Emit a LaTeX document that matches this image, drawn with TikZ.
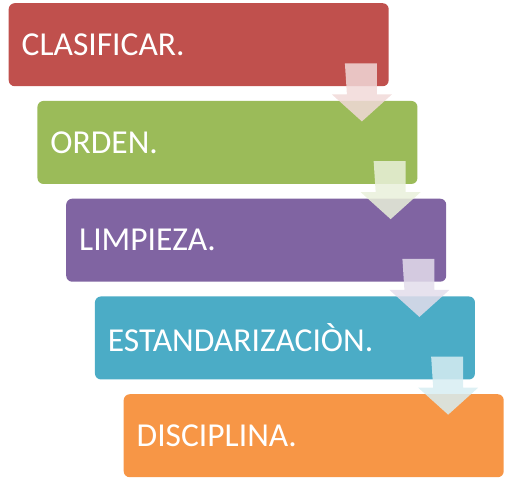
\documentclass[tikz,border=0pt]{standalone}
\usepackage{fontspec}
\setmainfont{Carlito}
\definecolor{cred}{HTML}{C0504D}
\definecolor{cgreen}{HTML}{9BBB59}
\definecolor{cpurple}{HTML}{8064A2}
\definecolor{cblue}{HTML}{4BACC6}
\definecolor{corange}{HTML}{F79646}
\tikzset{
  stepbox/.style={rounded corners=6pt, minimum width=380pt, minimum height=83pt, inner sep=0pt, anchor=north west},
  steptext/.style={anchor=west, text=white, font=\fontsize{33.5}{36}\selectfont, inner sep=0pt},
  downarrow/.style={fill=#1!22!white, fill opacity=0.85, draw=none},
}
\begin{document}
\begin{tikzpicture}[x=1pt,y=-1pt]
\useasboundingbox (0,0) rectangle (505,480);
\foreach \i/\c/\t in {0/cred/CLASIFICAR., 1/cgreen/ORDEN., 2/cpurple/LIMPIEZA., 3/cblue/ESTANDARIZACIÒN., 4/corange/DISCIPLINA.}{
  \node[stepbox, fill=\c] (b\i) at ({8.5+28.75*\i},{3+97.75*\i}) {};
  \node[steptext] (t\i) at ([xshift=13pt]b\i.west) {\t};
}
\foreach \i/\c in {0/cred,1/cgreen,2/cpurple,3/cblue}{
  \path[downarrow=\c] ([xshift=-44pt,yshift=23pt]b\i.south east) -- ++(32,0) -- ++(0,31) -- ++(15,0) -- ++(-30,27) -- ++(-30,-27) -- ++(15,0) -- cycle;
}
\end{tikzpicture}
\end{document}
